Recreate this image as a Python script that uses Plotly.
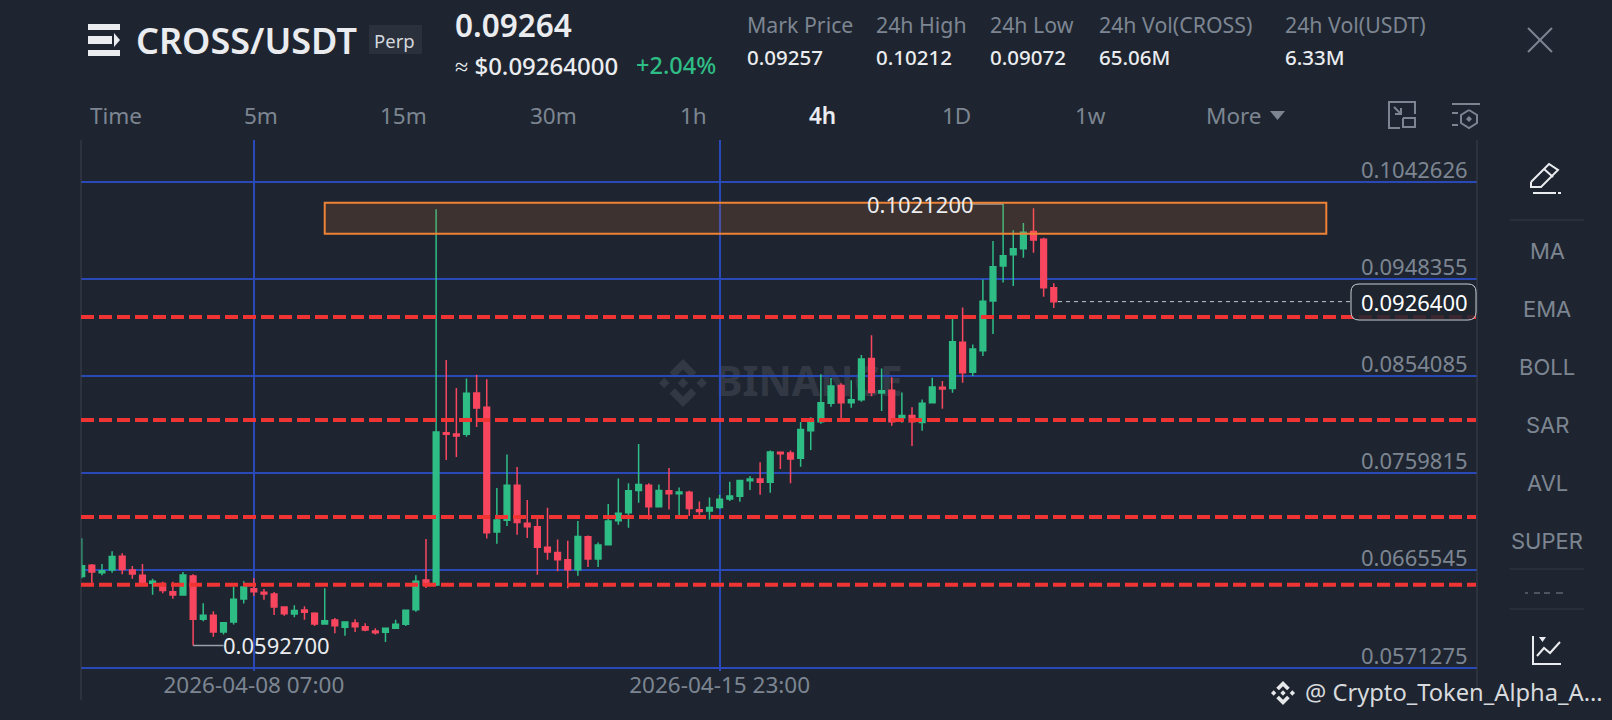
import pandas as pd
import plotly.graph_objects as go

# 4h candles, first one at 2026-04-05 11:00
start = "2026-04-05 11:00"
opens = [
    .06595, .06705, .06633, .06659, .06792, .06659, .06608, .06530, .06527, .06449,
    .06417, .06601, .06180, .06219, .06057, .06155, .06378, .06478, .06443, .06426,
    .06300, .06232, .06271, .06239, .06135, .06174, .06103, .06145, .06109, .06067,
    .06054, .06093, .06132, .06274, .06562, .06513, .07992, .07979, .07976, .08377,
    .08238, .07027, .07141, .07481, .07112, .07079, .06879, .06830, .06759, .06662,
    .06982, .06765, .06905, .07137, .07215, .07432, .07481, .07273, .07429, .07400,
    .07413, .07244, .07231, .07267, .07348, .07374, .07526, .07542, .07510, .07801,
    .07794, .07743, .08011, .08099, .08277, .08451, .08283, .08312, .08713, .08377,
    .08403, .08137, .08160, .08092, .08283, .08432, .08422, .08869, .08578, .08788,
    .09270, .09610, .09720, .09778, .09946, .09869, .09400,
]
highs = [
    .06967, .06718, .06718, .06841, .06821, .06698, .06718, .06575, .06546, .06546,
    .06640, .06617, .06336, .06258, .06148, .06494, .06549, .06582, .06475, .06446,
    .06300, .06316, .06307, .06248, .06481, .06193, .06161, .06180, .06142, .06093,
    .06093, .06177, .06268, .06608, .06960, .10160, .08697, .08425, .08519, .08555,
    .08510, .07455, .07781, .07659, .07338, .07176, .07264, .06956, .06943, .07134,
    .06995, .06927, .07299, .07548, .07500, .07882, .07500, .07490, .07649, .07461,
    .07429, .07325, .07364, .07390, .07516, .07529, .07571, .07704, .07820, .07804,
    .07820, .08095, .08141, .08558, .08522, .08471, .08500, .08746, .08937, .08616,
    .08529, .08383, .08238, .08315, .08526, .08493, .09102, .09208, .08849, .09480,
    .09853, .10212, .09956, .10027, .10170, .09885, .09442,
]
lows = [
    .06578, .06504, .06608, .06633, .06617, .06575, .06523, .06420, .06433, .06381,
    .06410, .05927, .06161, .06012, .06032, .06129, .06333, .06407, .06371, .06223,
    .06216, .06200, .06177, .06116, .06129, .06045, .06022, .06057, .06064, .06032,
    .05960, .06090, .06116, .06255, .06485, .06503, .07726, .07756, .07953, .08047,
    .06966, .06914, .07086, .07002, .06969, .06613, .06759, .06646, .06481, .06604,
    .06688, .06688, .06898, .07099, .07070, .07312, .07150, .07270, .07247, .07183,
    .07183, .07176, .07150, .07254, .07328, .07322, .07435, .07390, .07409, .07639,
    .07500, .07662, .07824, .08079, .08244, .08131, .08234, .08293, .08345, .08202,
    .08060, .08089, .07862, .08011, .08277, .08225, .08380, .08477, .08542, .08736,
    .08950, .09451, .09416, .09691, .09739, .09312, .09202,
]
closes = [
    .06701, .06640, .06653, .06789, .06663, .06620, .06536, .06549, .06459, .06417,
    .06611, .06180, .06219, .06057, .06148, .06375, .06494, .06449, .06426, .06300,
    .06235, .06265, .06248, .06135, .06167, .06119, .06155, .06109, .06077, .06051,
    .06093, .06132, .06268, .06549, .06510, .07998, .07976, .07959, .08374, .08231,
    .07021, .07144, .07481, .07121, .07079, .06879, .06833, .06759, .06662, .06985,
    .06765, .06901, .07134, .07209, .07429, .07490, .07273, .07432, .07400, .07416,
    .07257, .07228, .07267, .07345, .07377, .07529, .07542, .07510, .07804, .07788,
    .07736, .08024, .08105, .08283, .08445, .08283, .08312, .08707, .08383, .08400,
    .08099, .08160, .08099, .08277, .08435, .08416, .08875, .08574, .08804, .09267,
    .09603, .09710, .09778, .09937, .09862, .09400, .09264,
]
grid_prices = [0.1042626, 0.0948355, 0.0854085, 0.0759815, 0.0665545, 0.0571275]
grid_labels = ["0.1042626", "0.0948355", "0.0854085", "0.0759815", "0.0665545", "0.0571275"]
red_levels = [0.09115, 0.08115, 0.07173, 0.06516]
zone_prices = [0.09923, 0.10224]
zone_dates = ["2026-04-09 11:00", "2026-04-25 22:40"]
date_ticks = ["2026-04-08 07:00", "2026-04-15 23:00"]
x_range = ["2026-04-05 10:43", "2026-04-28 10:12"]
# bottom edge a little past the last grid price, plotly drops a grid line sitting on the edge
y_range = [0.056836, 0.10833]
tabs = ["Time", "5m", "15m", "30m", "1h", "4h", "1D", "1w", "More"]
side_items = ["MA", "EMA", "BOLL", "SAR", "AVL", "SUPER"]
stat_names = ["Mark Price", "24h High", "24h Low", "24h Vol(CROSS)", "24h Vol(USDT)"]
stat_values = ["0.09257", "0.10212", "0.09072", "65.06M", "6.33M"]

BG = "#1E2530"
GREEN = "#2EBD85"
RED = "#F9465F"
GRAY = "#7D8592"
BLUE = "#2A49B8"
FONT = "Noto Sans"
W, H = 1612, 720

dates = pd.date_range(start, periods=len(closes), freq="4h")


def px(x):
    return x / W


def py(y):
    return 1 - y / H


def note(x, y, text, size=22.5, color=GRAY, anchor="left", weight=None, family=FONT, **kw):
    font = dict(family=family, size=size, color=color)
    if weight:
        font["weight"] = weight
    return dict(x=px(x), y=py(y), xref="paper", yref="paper", text=text, showarrow=False,
                xanchor=anchor, yanchor="middle", font=font, **kw)


def seg(x0, y0, x1, y1, color=GRAY, width=2):
    return dict(type="line", xref="paper", yref="paper", x0=px(x0), y0=py(y0), x1=px(x1), y1=py(y1),
                line=dict(color=color, width=width))


def box(x0, y0, x1, y1, color):
    return dict(type="rect", xref="paper", yref="paper", x0=px(x0), y0=py(y0), x1=px(x1), y1=py(y1),
                fillcolor=color, line=dict(width=0))


def path(points, fill=None, color=None, width=0, layer="above"):
    d = "M " + " L ".join(f"{px(a):.5f},{py(b):.5f}" for a, b in points)
    if fill:
        d += " Z"
    return dict(type="path", xref="paper", yref="paper", path=d, fillcolor=fill, layer=layer,
                line=dict(color=color or "rgba(0,0,0,0)", width=width))


def diamond(cx, cy, r, fill, layer="above"):
    return path([(cx - r, cy), (cx, cy - r), (cx + r, cy), (cx, cy + r)], fill=fill, layer=layer)


def binance_logo(cx, cy, s, fill, layer="above"):
    # s = half width of the whole logo
    r = s * 0.22
    out = [diamond(cx, cy, r, fill, layer), diamond(cx - s * 0.78, cy, r, fill, layer), diamond(cx + s * 0.78, cy, r, fill, layer)]
    for d in (-1, 1):
        out.append(path([(cx - s * 0.56, cy + d * s * 0.44), (cx, cy + d * s), (cx + s * 0.56, cy + d * s * 0.44),
                         (cx + s * 0.34, cy + d * s * 0.22), (cx, cy + d * s * 0.56), (cx - s * 0.34, cy + d * s * 0.22)],
                        fill=fill, layer=layer))
    return out


fig = go.Figure()
fig.add_trace(go.Candlestick(
    x=dates, open=opens, high=highs, low=lows, close=closes,
    increasing=dict(line=dict(color=GREEN, width=1.5), fillcolor=GREEN),
    decreasing=dict(line=dict(color=RED, width=1.5), fillcolor=RED),
    hoverinfo="skip", showlegend=False,
))
# grey connectors from the extreme labels to the candles
fig.add_trace(go.Scatter(x=[dates[11], dates[14]], y=[min(lows)] * 2, mode="lines",
                         line=dict(color="#9AA0A8", width=1.5), hoverinfo="skip", showlegend=False))
fig.add_trace(go.Scatter(x=[dates[88], dates[91]], y=[max(highs)] * 2, mode="lines",
                         line=dict(color="#9AA0A8", width=1.5), hoverinfo="skip", showlegend=False))

shapes = []
# watermark under the candles
shapes += binance_logo(683, 383, 24, "#323945", layer="below")
shapes.append(dict(type="rect", xref="paper", yref="paper", x0=px(716), x1=px(902), y0=py(402), y1=py(364),
                   layer="below", line=dict(width=0), fillcolor="rgba(0,0,0,0)",
                   label=dict(text="<b>BINANCE</b>", textposition="middle center",
                              font=dict(family=FONT, size=41, color="#323945"))))
# axis borders
shapes.append(seg(81, 140, 81, 700, "#3A414D", 1))
shapes.append(seg(1477, 140, 1477, 700, "#3A414D", 1))
# red levels
for lv in red_levels:
    shapes.append(dict(type="line", xref="paper", yref="y", x0=px(81), x1=px(1476), y0=lv, y1=lv,
                       line=dict(color="#F03434", width=4, dash="13px,5px")))
# supply zone
shapes.append(dict(type="rect", xref="x", yref="y", x0=zone_dates[0], x1=zone_dates[1],
                   y0=zone_prices[0], y1=zone_prices[1], fillcolor="rgba(240,128,50,0.15)",
                   line=dict(color="#EE8236", width=2)))
# last price line and its label box
shapes.append(dict(type="line", xref="paper", yref="y", x0=px(1058), x1=px(1351), y0=closes[-1], y1=closes[-1],
                   line=dict(color="#C4C8CE", width=1, dash="4px,4px")))
x0, x1, y0, y1, r = 1351, 1476, 284, 320, 8
shapes.append(dict(type="path", xref="paper", yref="paper", fillcolor="rgba(30,37,48,0.86)",
                   line=dict(color="#C9CDD3", width=1),
                   path=(f"M {px(x0 + r)},{py(y0)} L {px(x1 - r)},{py(y0)} Q {px(x1)},{py(y0)} {px(x1)},{py(y0 + r)} "
                         f"L {px(x1)},{py(y1 - r)} Q {px(x1)},{py(y1)} {px(x1 - r)},{py(y1)} L {px(x0 + r)},{py(y1)} "
                         f"Q {px(x0)},{py(y1)} {px(x0)},{py(y1 - r)} L {px(x0)},{py(y0 + r)} Q {px(x0)},{py(y0)} {px(x0 + r)},{py(y0)} Z")))

# header menu icon
shapes += [box(88, 24, 120, 30, "#EAECEF"), box(88, 36, 112, 44, "#EAECEF"), box(88, 50, 120, 56, "#EAECEF"),
           path([(114, 33), (120, 40), (114, 47)], fill="#EAECEF"),
           box(369, 25, 422, 54, "#2A313C")]
# close cross
shapes += [seg(1528, 28, 1552, 52), seg(1552, 28, 1528, 52)]
# "More" triangle
shapes.append(path([(1270, 111), (1285, 111), (1277.5, 120)], fill=GRAY))
# fit / settings icons
shapes += [path([(1415, 114), (1415, 102), (1389, 102), (1389, 128), (1400, 128)], color=GRAY, width=2),
           path([(1403, 118), (1415, 118), (1415, 127), (1403, 127), (1403, 118)], color=GRAY, width=2),
           path([(1394, 107), (1401, 114)], color=GRAY, width=2),
           path([(1401, 108), (1401, 114), (1395, 114)], color=GRAY, width=2),
           seg(1452, 104, 1480, 104), seg(1452, 113, 1458, 113), seg(1452, 125, 1458, 125),
           path([(1469, 110), (1477, 115), (1477, 123), (1469, 128), (1461, 123), (1461, 115), (1469, 110)], color=GRAY, width=2),
           diamond(1469, 119, 3, GRAY)]
# pencil icon
shapes += [path([(1531, 182), (1549, 164), (1558, 170), (1541, 187), (1531, 187), (1531, 182)], color="#EAECEF", width=2),
           seg(1533, 193, 1556, 193, "#EAECEF", 2), seg(1558, 193, 1561, 193, "#EAECEF", 2),
           seg(1544, 169, 1553, 177, "#EAECEF", 2)]
# sidebar separators and the clipped row
for yy in [220, 569, 609]:
    shapes.append(seg(1510, yy, 1584, yy, "#333A45", 1))
for a, b in [(1525, 1528), (1534, 1540), (1544, 1550), (1556, 1563)]:
    shapes.append(seg(a, 593, b, 593, GRAY, 1))
# chart type icon
shapes += [path([(1533, 636), (1533, 664), (1561, 664)], color="#EAECEF", width=2),
           path([(1537, 656), (1544, 648), (1550, 653), (1560, 642)], color="#EAECEF", width=2),
           path([(1539, 637), (1546, 637), (1542.5, 642)], fill="#EAECEF")]
# footer logo
shapes += binance_logo(1283, 693, 12, "#E6E8EA")

ann = []
ann.append(note(134, 40, "CROSS/USDT", size=36, color="#EAECEF", weight=600))
ann.append(note(372, 40, "Perp", size=18.5, color="#D5D8DC"))
ann.append(note(453, 25, "0.09264", size=31.5, color="#EAECEF", weight=600))
ann.append(note(453, 65, "≈ $0.09264000", size=24, color="#EAECEF", weight=500))
ann.append(note(634, 65, "+2.04%", size=23.5, color=GREEN, weight=500))
for name, value, xx in zip(stat_names, stat_values, [745, 874, 988, 1097, 1283]):
    ann.append(note(xx, 25, name, size=21.3))
    ann.append(note(xx, 56.5, value, size=20.5, color="#EAECEF", weight=500))
for tab, xx in zip(tabs, [116, 261, 404, 553, 693, 822, 956, 1090, 1234]):
    if tab == "4h":
        ann.append(note(xx, 116, tab, color="#EAECEF", anchor="center", weight=600))
    else:
        ann.append(note(xx, 116, tab, anchor="center"))
for item, yy in zip(side_items, [251, 309, 367, 425, 483, 541]):
    ann.append(note(1547, yy, item, size=22, anchor="center", family="Inter"))
for label, price in zip(grid_labels, grid_prices):
    ann.append(dict(x=px(1470), xref="paper", y=price, yref="y", text=label, showarrow=False, xanchor="right",
                    yanchor="bottom", yshift=-4, font=dict(family=FONT, size=22, color=GRAY)))
ann.append(note(1470, 302, "0.0926400", size=22, color="#FFFFFF", anchor="right"))
# extreme labels sit at the end of the connectors
ann.append(dict(x=dates[14], y=min(lows), text="0.0592700", showarrow=False, xanchor="left", yanchor="middle",
                xshift=-2, font=dict(family=FONT, size=22, color="#EAECEF")))
ann.append(dict(x=dates[88], y=max(highs), text="0.1021200", showarrow=False, xanchor="right", yanchor="middle",
                xshift=3, font=dict(family=FONT, size=22, color="#EAECEF")))
ann.append(note(1303, 692, "@ Crypto_Token_Alpha_A...", size=23.7, color="#D8DADD"))

fig.update_layout(
    width=W, height=H,
    margin=dict(l=0, r=0, t=0, b=0),
    paper_bgcolor=BG, plot_bgcolor=BG,
    boxgap=0.2,
    shapes=shapes, annotations=ann,
    showlegend=False,
    xaxis=dict(domain=[px(81), px(1477)], range=x_range, type="date", rangeslider=dict(visible=False),
               tickmode="array", tickvals=date_ticks, ticktext=date_ticks, showgrid=True, gridcolor=BLUE, gridwidth=1.6,
               zeroline=False, showline=False, ticks="", ticklabelstandoff=-1,
               tickfont=dict(family=FONT, size=22.5, color=GRAY)),
    yaxis=dict(domain=[1 - 670.5 / H, 1 - 140 / H], range=y_range, side="right", tickmode="array", tickvals=grid_prices,
               showticklabels=False, showgrid=True, gridcolor=BLUE, gridwidth=1.6, zeroline=False, showline=False),
)

fig.write_html("out.html", config=dict(displayModeBar=False),
               post_script="document.body.style.margin='0';document.body.style.overflow='hidden';")
